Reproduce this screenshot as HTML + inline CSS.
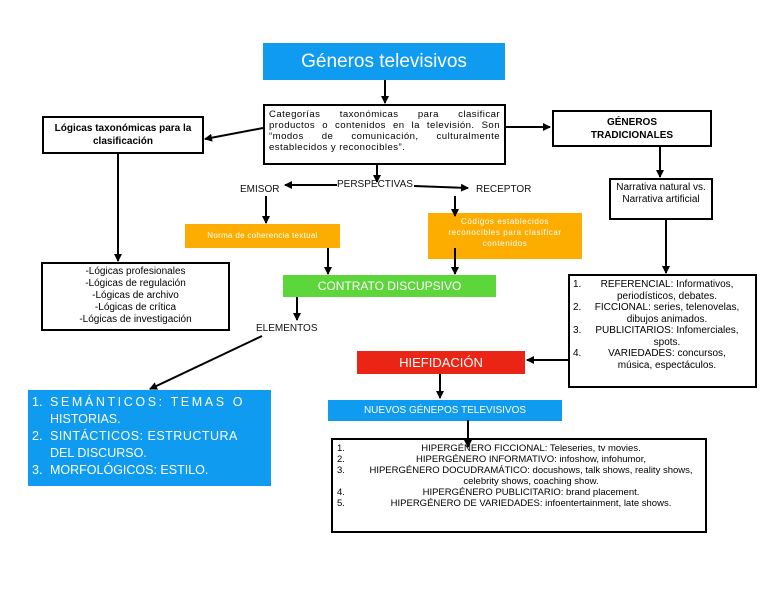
<!DOCTYPE html>
<html><head><meta charset="utf-8"><style>
body{margin:0;width:768px;height:594px;background:#fff;position:relative;overflow:hidden;font-family:"Liberation Sans",sans-serif;}
.b{position:absolute;box-sizing:border-box;}
.k{border:2px solid #000;background:#fff;}
.c{text-align:center;}
.t{position:absolute;font-size:10px;color:#111;white-space:nowrap;}
</style></head><body>
<svg width="768" height="594" style="position:absolute;left:0;top:0;z-index:2" xmlns="http://www.w3.org/2000/svg">
<defs><marker id="a" markerWidth="8" markerHeight="8" refX="7" refY="4" orient="auto" markerUnits="userSpaceOnUse"><path d="M0,0 L8,4 L0,8z" fill="#000"/></marker></defs>
<g stroke="#000" stroke-width="2" fill="none" marker-end="url(#a)">
<line x1="385" y1="80" x2="385" y2="103"/>
<line x1="263" y1="128" x2="205" y2="139"/>
<line x1="506" y1="127" x2="550" y2="127"/>
<line x1="377" y1="165" x2="377" y2="182"/>
<line x1="337" y1="185" x2="285" y2="185"/>
<line x1="414" y1="186" x2="468" y2="188"/>
<line x1="266" y1="196" x2="266" y2="223"/>
<line x1="455" y1="196" x2="455" y2="216"/>
<line x1="328" y1="248" x2="328" y2="274"/>
<line x1="455" y1="248" x2="455" y2="274"/>
<line x1="297" y1="297" x2="297" y2="320"/>
<line x1="262" y1="336" x2="150" y2="389"/>
<line x1="118" y1="154" x2="118" y2="261"/>
<line x1="660" y1="147" x2="660" y2="177"/>
<line x1="666" y1="220" x2="666" y2="273"/>
<line x1="568" y1="360" x2="527" y2="360"/>
<line x1="440" y1="374" x2="440" y2="398"/>
<line x1="468" y1="420" x2="468" y2="447"/>
</g></svg>

<div class="b c" style="left:263px;top:43px;width:242px;height:37px;background:#0f9bf0;color:#fff;font-size:19px;line-height:37px;">Géneros televisivos</div>
<div class="b k" style="left:263px;top:104px;width:243px;height:61px;padding:3px 4px;font-size:9.6px;line-height:11px;text-align:justify;letter-spacing:0.45px;">Categorías taxonómicas para clasificar productos o contenidos en la televisión. Son “modos de comunicación, culturalmente establecidos y reconocibles”.</div>
<div class="b k c" style="left:42px;top:116px;width:162px;height:38px;font-size:10px;font-weight:bold;line-height:13px;padding-top:4px;">Lógicas taxonómicas para la clasificación</div>
<div class="b k c" style="left:552px;top:110px;width:160px;height:37px;font-size:10px;font-weight:bold;line-height:13px;padding-top:4px;">GÉNEROS<br>TRADICIONALES</div>
<div class="b k c" style="left:609px;top:178px;width:104px;height:42px;font-size:10px;line-height:12px;padding-top:2px;">Narrativa natural vs.<br>Narrativa artificial</div>
<div class="b k c" style="left:41px;top:262px;width:189px;height:69px;font-size:10px;line-height:12px;padding-top:2px;">-Lógicas profesionales<br>-Lógicas de regulación<br>-Lógicas de archivo<br>-Lógicas de crítica<br>-Lógicas de investigación</div>
<div class="b k" style="left:568px;top:274px;width:189px;height:114px;font-size:10px;line-height:11.5px;padding:3px 12px 3px 3px;">
<div style="display:flex"><span style="width:18px">1.</span><span style="flex:1;text-align:center">REFERENCIAL: Informativos, periodísticos, debates.</span></div>
<div style="display:flex"><span style="width:18px">2.</span><span style="flex:1;text-align:center">FICCIONAL: series, telenovelas, dibujos animados.</span></div>
<div style="display:flex"><span style="width:18px">3.</span><span style="flex:1;text-align:center">PUBLICITARIOS: Infomerciales, spots.</span></div>
<div style="display:flex"><span style="width:18px">4.</span><span style="flex:1;text-align:center;padding:0 8px">VARIEDADES: concursos, música, espectáculos.</span></div>
</div>
<div class="t" style="left:240px;top:184px;">EMISOR</div>
<div class="t" style="left:337px;top:179px;">PERSPECTIVAS</div>
<div class="t" style="left:476px;top:184px;">RECEPTOR</div>
<div class="b c" style="left:185px;top:224px;width:155px;height:24px;background:#fdac00;color:#fff;font-size:8px;line-height:24px;letter-spacing:0.3px;">Norma de coherencia textual</div>
<div class="b c" style="left:428px;top:213px;width:154px;height:46px;background:#fdac00;color:#fff;font-size:8px;line-height:11px;padding:3px 12px 0;letter-spacing:0.6px;">Códigos establecidos reconocibles para clasificar contenidos</div>
<div class="b c" style="left:283px;top:275px;width:213px;height:22px;background:#5dd63c;color:#fff;font-size:12px;line-height:22px;">CONTRATO DISCUPSIVO</div>
<div class="t" style="left:256px;top:323px;">ELEMENTOS</div>
<div class="b" style="left:28px;top:390px;width:243px;height:96px;background:#0f9bf0;color:#fff;font-size:12.5px;line-height:17px;padding:4px 4px 0 4px;">
<div style="display:flex"><span style="width:18px">1.</span><span style="flex:1;letter-spacing:2.6px;white-space:nowrap">SEMÁNTICOS: TEMAS O</span></div>
<div style="padding-left:18px">HISTORIAS.</div>
<div style="display:flex"><span style="width:18px">2.</span><span style="flex:1;letter-spacing:0.5px">SINTÁCTICOS: ESTRUCTURA</span></div>
<div style="padding-left:18px">DEL DISCURSO.</div>
<div style="display:flex"><span style="width:18px">3.</span><span style="flex:1">MORFOLÓGICOS: ESTILO.</span></div>
</div>
<div class="b c" style="left:357px;top:351px;width:168px;height:23px;background:#ea2515;color:#fff;font-size:13px;line-height:23px;">HIEFIDACIÓN</div>
<div class="b c" style="left:328px;top:400px;width:234px;height:21px;background:#0f9bf0;color:#fff;font-size:10px;line-height:21px;">NUEVOS GÉNEPOS TELEVISIVOS</div>
<div class="b k" style="left:331px;top:438px;width:376px;height:95px;font-size:9.5px;line-height:11px;padding:3px 4px;">
<div style="display:flex"><span style="width:24px">1.</span><span style="flex:1;text-align:center">HIPERGÉNERO FICCIONAL: Teleseries, tv movies.</span></div>
<div style="display:flex"><span style="width:24px">2.</span><span style="flex:1;text-align:center">HIPERGÉNERO INFORMATIVO: infoshow, infohumor,</span></div>
<div style="display:flex"><span style="width:24px">3.</span><span style="flex:1;text-align:center">HIPERGÉNERO DOCUDRAMÁTICO: docushows, talk shows, reality shows, celebrity shows, coaching show.</span></div>
<div style="display:flex"><span style="width:24px">4.</span><span style="flex:1;text-align:center">HIPERGÉNERO PUBLICITARIO: brand placement.</span></div>
<div style="display:flex"><span style="width:24px">5.</span><span style="flex:1;text-align:center">HIPERGÉNERO DE VARIEDADES: infoentertainment, late shows.</span></div>
</div>
</body></html>
